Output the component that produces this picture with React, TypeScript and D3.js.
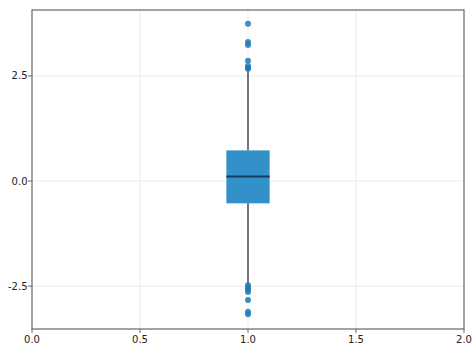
import React from "react";
import * as d3 from "d3";

const categories = [1.0];
const q1 = [-0.53];
const median = [0.11];
const q3 = [0.73];
const whiskerLow = [-2.46];
const whiskerHigh = [2.64];
const outliers = [3.74, 3.31, 3.24, 2.86, 2.74, 2.69, 2.67, -2.48, -2.53, -2.57, -2.64, -2.83, -3.11, -3.17];
const xTicks = [0, 0.5, 1.0, 1.5, 2.0];
const yTicks = [-2.5, 0, 2.5];

const W = 474, H = 355;
const m = { left: 32, right: 10, top: 10, bottom: 26 };

export default function App() {
  const x = d3.scaleLinear().domain([0, 2]).range([m.left, W - m.right]);
  const y = d3.scaleLinear().domain([-3.52, 4.07]).range([H - m.bottom, m.top]);
  const boxHalf = 0.1;
  const font = "DejaVu Sans, sans-serif";
  return (
    <svg width={W} height={H} style={{ position: "absolute", left: 0, top: 0 }}>
      <rect x={0} y={0} width={W} height={H} fill="#fff" />
      {xTicks.slice(1, -1).map((t) => (
        <line key={"gx" + t} x1={x(t)} x2={x(t)} y1={m.top} y2={H - m.bottom} stroke="#ebebeb" strokeWidth={1} />
      ))}
      {yTicks.map((t) => (
        <line key={"gy" + t} x1={m.left} x2={W - m.right} y1={y(t)} y2={y(t)} stroke="#ebebeb" strokeWidth={1} />
      ))}
      {categories.map((c, i) => (
        <g key={i}>
          <line x1={x(c)} x2={x(c)} y1={y(whiskerHigh[i])} y2={y(q3[i])} stroke="#333" strokeWidth={1.3} />
          <line x1={x(c)} x2={x(c)} y1={y(q1[i])} y2={y(whiskerLow[i])} stroke="#333" strokeWidth={1.3} />
          <rect x={x(c - boxHalf)} width={x(c + boxHalf) - x(c - boxHalf)} y={y(q3[i])} height={y(q1[i]) - y(q3[i])} fill="#3391c9" />
          <line x1={x(c - boxHalf)} x2={x(c + boxHalf)} y1={y(median[i])} y2={y(median[i])} stroke="#173a5e" strokeWidth={2} />
          {outliers.map((v, j) => (
            <circle key={j} cx={x(c)} cy={y(v)} r={3} fill="#1f7ab6" fillOpacity={0.85} />
          ))}
        </g>
      ))}
      <rect x={m.left} y={m.top} width={W - m.left - m.right} height={H - m.top - m.bottom} fill="none" stroke="#666" strokeWidth={1.2} />
      {xTicks.map((t) => (
        <g key={"tx" + t}>
          <line x1={x(t)} x2={x(t)} y1={H - m.bottom} y2={H - m.bottom + 4} stroke="#666" />
          <text x={x(t)} y={H - m.bottom + 13.5} textAnchor="middle" fontFamily={font} fontSize={10} fill="#222">{t.toFixed(1)}</text>
        </g>
      ))}
      {yTicks.map((t) => (
        <g key={"ty" + t}>
          <line x1={m.left - 4} x2={m.left} y1={y(t)} y2={y(t)} stroke="#666" />
          <text x={m.left - 4.5} y={y(t)} dy="0.35em" textAnchor="end" fontFamily={font} fontSize={10} fill="#222">{t.toFixed(1)}</text>
        </g>
      ))}
    </svg>
  );
}
